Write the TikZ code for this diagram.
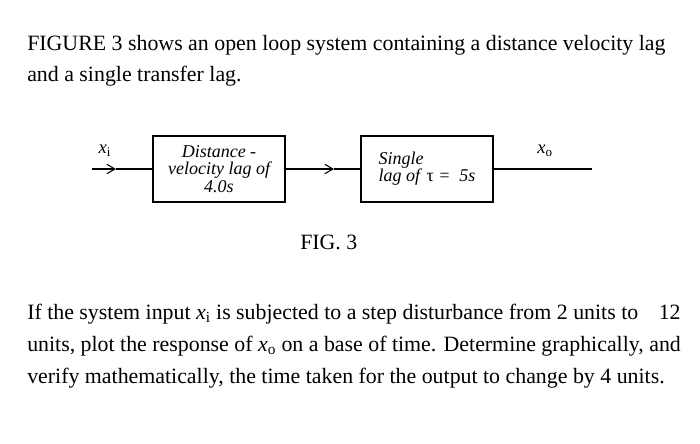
\documentclass[tikz,border=0pt]{standalone}
\usepackage{fontspec}
\setmainfont{Liberation Serif}
\usetikzlibrary{arrows.meta,positioning}
\tikzset{
    block/.style={draw, thick, minimum width=99pt, minimum height=49.5pt, align=center, font=\fontsize{13.5}{13}\selectfont\itshape, inner sep=1pt},
    sig/.style={thick},
    sigarrow/.style={thick, -{Straight Barb[length=6pt,width=7pt]}},
    txt/.style={anchor=base west, inner sep=0pt, font=\fontsize{16.4}{18}\selectfont}
}
\begin{document}
\begin{tikzpicture}[x=0.75pt, y=-0.75pt]
            \useasboundingbox (0,0) rectangle (700,443);
            \node[txt] (line1) at (27,50) {FIGURE 3 shows an open loop system containing a distance velocity lag};
            \node[txt] (line2) at (27,81) {and a single transfer lag.};
            
            \node[block] (lag1) at (219,169) {Distance -\\velocity lag of\\4.0s};
            \node[block, align=left] (lag2) at (427,169) {Single\\lag of \textup{τ} =\ \ 5s};
            
            \coordinate (in) at (92,169);
            \coordinate (mid1) at (116,169);
            \coordinate (mid2) at (334,169);
            \coordinate (out) at (592,169);
            
            \draw[sigarrow] (in)--(mid1);
            \draw[sig] (mid1)--(lag1.west);
            \draw[sigarrow] (lag1.east)--(mid2);
            \draw[sig] (mid2)--(lag2.west);
            \draw[sig] (lag2.east)--(out);
            
            \node (xi) at (105,151) {\fontsize{14}{14}\selectfont\textit{x}\textsubscript{i}};
            \node (xo) at (545,151) {\fontsize{14}{14}\selectfont\textit{x}\textsubscript{o}};
            
            \node[txt] (fig) at (300,249) {FIG. 3};
            
            \node[txt] (line3) at (27,319) {\makebox[490pt][s]{If the system input \textit{x}\textsubscript{i} is subjected to a step disturbance from 2 units to\hfill 12}};
            \node[txt] (line4) at (27,351) {units, plot the response of \textit{x}\textsubscript{o} on a base of time. Determine graphically, and};
            \node[txt] (line5) at (27,383) {verify mathematically, the time taken for the output to change by 4 units.};
\end{tikzpicture}
\end{document}
